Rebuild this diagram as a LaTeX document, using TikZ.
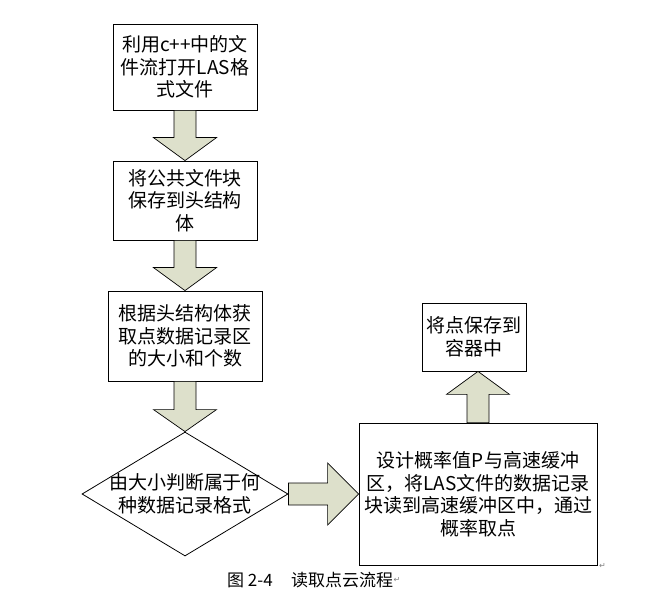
\documentclass[tikz,border=0pt]{standalone}
\usepackage{fontspec}
\newfontfamily\cjk{Noto Sans CJK SC}
\newfontfamily\dejavu{DejaVu Sans}
\usetikzlibrary{shapes.geometric,calc}
\definecolor{arrowfill}{RGB}{221,224,203}
\tikzset{
  box/.style={draw=black,line width=0.8pt,fill=white,align=center,inner sep=0pt,
    font=\cjk\fontsize{19}{22.5}\selectfont},
  plaintext/.style={align=center,inner sep=0pt,font=\cjk\fontsize{19}{22.5}\selectfont},
  barrow/.style={draw=black,line width=0.7pt,fill=arrowfill,line join=miter},
  captext/.style={anchor=west,inner sep=0pt,font=\cjk\fontsize{17}{20}\selectfont},
  retmark/.style={anchor=west,inner sep=0pt,text=gray,font=\dejavu\fontsize{8}{8}\selectfont},
}
\newcommand\vblockarrow[3]{%
  \draw[barrow] let \p1=(#1), \p2=(#2) in
    ({\x1-11pt},{\y1}) -- ({\x1-11pt},{\y2+#3}) -- ({\x1-31.5pt},{\y2+#3}) -- ({\x1},{\y2})
    -- ({\x1+31.5pt},{\y2+#3}) -- ({\x1+11pt},{\y2+#3}) -- ({\x1+11pt},{\y1}) -- cycle;}
\newcommand\hblockarrow[3]{%
  \draw[barrow] let \p1=(#1), \p2=(#2) in
    ({\x1},{\y1+11pt}) -- ({\x2-#3},{\y1+11pt}) -- ({\x2-#3},{\y1+31pt}) -- ({\x2},{\y1})
    -- ({\x2-#3},{\y1-31pt}) -- ({\x2-#3},{\y1-11pt}) -- ({\x1},{\y1-11pt}) -- cycle;}
\begin{document}
\begin{tikzpicture}[x=1pt,y=-1pt]
\useasboundingbox (0,0) rectangle (646,604);

\node[box,minimum width=144pt,minimum height=86pt] (b1) at (185,67)
  {利用c++中的文\\件流打开LAS格\\式文件};
\node[box,minimum width=144pt,minimum height=79pt] (b2) at (185,200.5)
  {将公共文件块\\保存到头结构\\体};
\node[box,minimum width=154pt,minimum height=90pt] (b3) at (185,336)
  {根据头结构体获\\取点数据记录区\\的大小和个数};
\node[draw=black,line width=0.8pt,fill=white,shape=diamond,minimum width=206pt,
  minimum height=124pt,inner sep=0pt] (d) at (185,494) {};
\node[plaintext] (dt) at (d.center) {由大小判断属于何\\种数据记录格式};
\node[box,minimum width=238pt,minimum height=142pt] (b5) at (478,494)
  {设计概率值P与高速缓冲\\区，将LAS文件的数据记录\\块读到高速缓冲区中，通过\\概率取点};
\node[box,minimum width=104pt,minimum height=68pt] (b4) at (474,337)
  {将点保存到\\容器中};

\vblockarrow{b1.south}{b2.north}{23pt}
\vblockarrow{b2.south}{b3.north}{23pt}
\vblockarrow{b3.south}{d.north}{22pt}
\vblockarrow{b5.north}{b4.south}{-23pt}
\hblockarrow{d.east}{b5.west}{31pt}

\node[captext] (cap1) at (227,580) {图 2-4};
\node[captext] (cap2) at (291,580) {读取点云流程};
\node[retmark] (ret1) at (cap2.east) {↵};
\node[retmark] (ret2) at (599,566) {↵};
\end{tikzpicture}
\end{document}
